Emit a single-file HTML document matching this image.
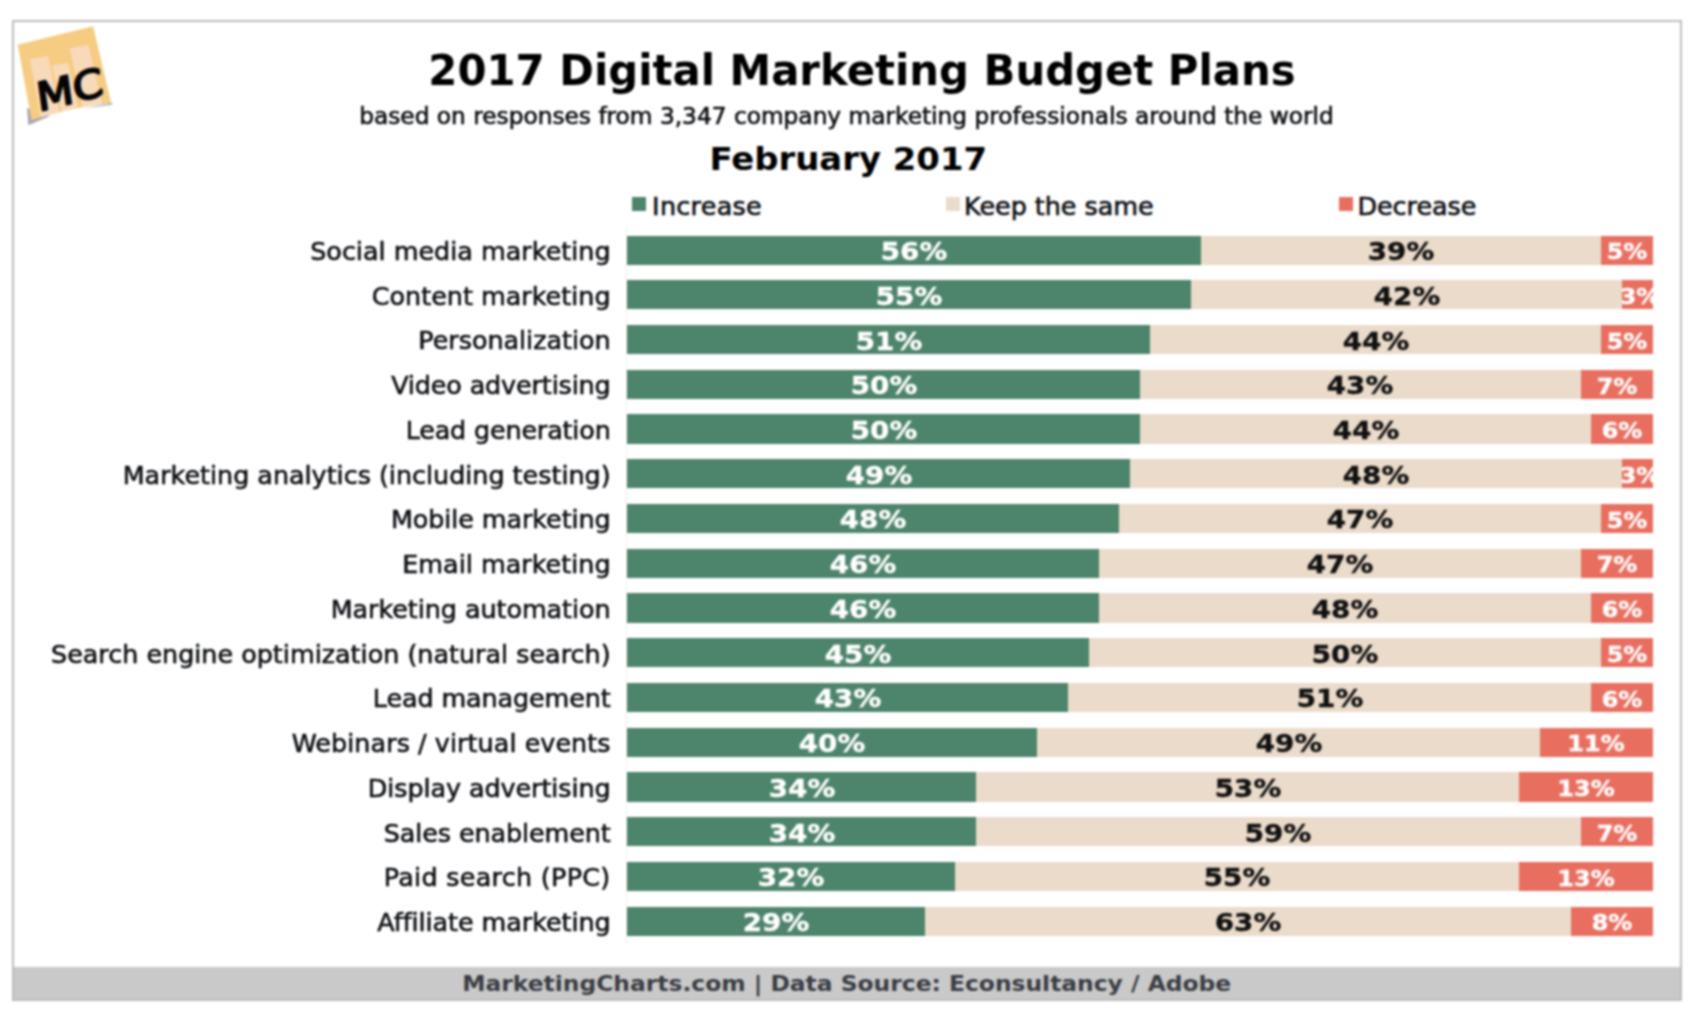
<!DOCTYPE html><html><head><meta charset="utf-8"><title>2017 Digital Marketing Budget Plans</title><style>
html,body{margin:0;padding:0;background:#fff;}
body{width:1700px;height:1018px;position:relative;overflow:hidden;font-family:"DejaVu Sans","Liberation Sans",sans-serif;color:#151515;}
.frame{position:absolute;left:11.8px;top:19.8px;width:1666.4px;height:976.8px;border:2px solid #bdbdbd;background:#fff;}
.footer{position:absolute;left:13.8px;top:966.6px;width:1666.4px;height:32px;background:#c9c9c9;}
.ftxt{position:absolute;left:0;width:1693.2px;top:968.2px;height:32px;line-height:32px;text-align:center;font-weight:bold;font-size:22px;color:#3b3d44;white-space:nowrap;}
.ftxt span{display:inline-block;transform:scaleX(1.063);}
.title{position:absolute;left:0;width:1724px;top:46.5px;text-align:center;font-weight:bold;font-size:41.8px;line-height:48px;color:#000;white-space:nowrap;}
.sub{position:absolute;left:0;width:1693px;top:101.4px;text-align:center;font-size:23.27px;line-height:30px;color:#1c1c1c;white-space:nowrap;}
.date{position:absolute;left:0;width:1697.2px;top:139px;text-align:center;font-weight:bold;font-size:32.3px;line-height:40px;color:#000;white-space:nowrap;}
.date span{display:inline-block;transform:scaleX(1.049);}
.lg{position:absolute;top:189.8px;height:32px;line-height:32px;font-size:25.4px;color:#1c1c1c;white-space:nowrap;}
.sw{position:absolute;top:197.4px;width:13.8px;height:13.8px;}
.lab{position:absolute;left:0;width:610.6px;text-align:right;font-size:25.4px;height:32px;line-height:32px;color:#1c1c1c;white-space:nowrap;}
.bar{position:absolute;left:627.4px;width:1025.2px;height:29.2px;overflow:hidden;}
.seg{position:absolute;top:0;height:100%;overflow:hidden;font-weight:bold;font-size:25px;line-height:32px;white-space:nowrap;}
.seg span{position:absolute;left:50%;top:0;height:32px;line-height:32px;transform:translateX(-50%) scaleX(1.11);}
.g{background:#4d846c;color:#fff;-webkit-text-stroke:0.4px #fff;}
.k{background:#eadbca;color:#111;-webkit-text-stroke:0.4px #111;}
.d{background:#e86f60;color:#fff;-webkit-text-stroke:0.35px #fff;font-size:21.6px;line-height:32px;}
.axis{position:absolute;left:625.6px;top:228px;width:1px;height:716px;background:#efefef;}
.logo{position:absolute;left:0;top:0;}
.sub,.lab,.lg{-webkit-text-stroke:0.6px #0c0e12;color:#0c0e12;}
.wrap{position:absolute;left:0;top:0;width:1700px;height:1018px;filter:blur(0.8px);}
</style></head><body>
<div class="wrap">
<div class="frame"></div>
<div class="footer"></div><div class="ftxt"><span>MarketingCharts.com | Data Source: Econsultancy / Adobe</span></div>
<svg class="logo" width="140" height="140" viewBox="0 0 140 140">
<polygon points="27,108 28.3,125.2 50,116" fill="#a4a8b3"/>
<polygon points="84,108.5 111.6,102.5 112.6,104.8" fill="#b4b8c2"/>
<path d="M17.7,44.8 L93.1,26.2 L111.1,102.7 Q68,108 31.5,120.2 Z" fill="#f5cc82"/>
<polygon points="29.9,59.2 48.0,56.0 59.5,112.2 40.6,117.3" fill="#f8dabb"/>
<polygon points="52.2,65.5 68.1,62.9 78.2,108.0 61.6,111.6" fill="#f8dabb"/>
<polygon points="69.7,48.5 88.3,44.8 102.1,103.5 82.8,107.3" fill="#f8dabb"/>
<text transform="matrix(0.970,-0.242,0.139,0.990,38.8,111.4)" x="0" y="0" font-family="DejaVu Sans, Liberation Sans, sans-serif" font-size="39" fill="#050505" stroke="#050505" stroke-width="2.1" stroke-linejoin="round" textLength="67.5" lengthAdjust="spacingAndGlyphs">MC</text>
</svg>
<div class="title">2017 Digital Marketing Budget Plans</div>
<div class="sub">based on responses from 3,347 company marketing professionals around the world</div>
<div class="date"><span>February 2017</span></div>
<div class="sw" style="left:632.4px;background:#4d846c"></div><div class="lg" style="left:652.1px;letter-spacing:0.3px">Increase</div>
<div class="sw" style="left:945.8px;background:#eadbca"></div><div class="lg" style="left:964.0px">Keep the same</div>
<div class="sw" style="left:1339.2px;background:#e86f60"></div><div class="lg" style="left:1357.4px">Decrease</div>
<div class="axis"></div>
<div class="lab" style="top:235px;letter-spacing:0.024px">Social media marketing</div>
<div class="bar" style="top:235.50px"><div class="seg g" style="left:0;width:574.1px"><span style="top:0.50px">56%</span></div><div class="seg k" style="left:574.1px;width:399.8px"><span style="top:0.50px">39%</span></div><div class="seg d" style="left:973.9px;width:51.8px"><span style="top:0.50px">5%</span></div></div>
<div class="lab" style="top:280px;letter-spacing:0.025px">Content marketing</div>
<div class="bar" style="top:280.24px"><div class="seg g" style="left:0;width:563.9px"><span style="top:0.76px">55%</span></div><div class="seg k" style="left:563.9px;width:430.6px"><span style="top:0.76px">42%</span></div><div class="seg d" style="left:994.4px;width:31.3px"><span style="top:0.76px;margin-left:3px">3%</span></div></div>
<div class="lab" style="top:324px;letter-spacing:-0.014px">Personalization</div>
<div class="bar" style="top:324.98px"><div class="seg g" style="left:0;width:522.9px"><span style="top:1.02px">51%</span></div><div class="seg k" style="left:522.9px;width:451.1px"><span style="top:1.02px">44%</span></div><div class="seg d" style="left:973.9px;width:51.8px"><span style="top:1.02px">5%</span></div></div>
<div class="lab" style="top:369px;letter-spacing:-0.119px">Video advertising</div>
<div class="bar" style="top:369.72px"><div class="seg g" style="left:0;width:512.6px"><span style="top:0.28px">50%</span></div><div class="seg k" style="left:512.6px;width:440.8px"><span style="top:0.28px">43%</span></div><div class="seg d" style="left:953.4px;width:72.3px"><span style="top:1.28px">7%</span></div></div>
<div class="lab" style="top:414px;letter-spacing:-0.150px">Lead generation</div>
<div class="bar" style="top:414.46px"><div class="seg g" style="left:0;width:512.6px"><span style="top:0.54px">50%</span></div><div class="seg k" style="left:512.6px;width:451.1px"><span style="top:0.54px">44%</span></div><div class="seg d" style="left:963.7px;width:62.0px"><span style="top:0.54px">6%</span></div></div>
<div class="lab" style="top:459px;letter-spacing:0.005px">Marketing analytics (including testing)</div>
<div class="bar" style="top:459.20px"><div class="seg g" style="left:0;width:502.3px"><span style="top:0.80px">49%</span></div><div class="seg k" style="left:502.3px;width:492.1px"><span style="top:0.80px">48%</span></div><div class="seg d" style="left:994.4px;width:31.3px"><span style="top:0.80px;margin-left:3px">3%</span></div></div>
<div class="lab" style="top:503px;letter-spacing:-0.067px">Mobile marketing</div>
<div class="bar" style="top:503.94px"><div class="seg g" style="left:0;width:492.1px"><span style="top:0.06px">48%</span></div><div class="seg k" style="left:492.1px;width:481.8px"><span style="top:0.06px">47%</span></div><div class="seg d" style="left:973.9px;width:51.8px"><span style="top:1.06px">5%</span></div></div>
<div class="lab" style="top:548px;letter-spacing:0.029px">Email marketing</div>
<div class="bar" style="top:548.68px"><div class="seg g" style="left:0;width:471.6px"><span style="top:0.32px">46%</span></div><div class="seg k" style="left:471.6px;width:481.8px"><span style="top:0.32px">47%</span></div><div class="seg d" style="left:953.4px;width:72.3px"><span style="top:0.32px">7%</span></div></div>
<div class="lab" style="top:593px;letter-spacing:-0.037px">Marketing automation</div>
<div class="bar" style="top:593.42px"><div class="seg g" style="left:0;width:471.6px"><span style="top:0.58px">46%</span></div><div class="seg k" style="left:471.6px;width:492.1px"><span style="top:0.58px">48%</span></div><div class="seg d" style="left:963.7px;width:62.0px"><span style="top:0.58px">6%</span></div></div>
<div class="lab" style="top:638px;letter-spacing:0.014px">Search engine optimization (natural search)</div>
<div class="bar" style="top:638.16px"><div class="seg g" style="left:0;width:461.3px"><span style="top:0.84px">45%</span></div><div class="seg k" style="left:461.3px;width:512.6px"><span style="top:0.84px">50%</span></div><div class="seg d" style="left:973.9px;width:51.8px"><span style="top:0.84px">5%</span></div></div>
<div class="lab" style="top:682px;letter-spacing:-0.093px">Lead management</div>
<div class="bar" style="top:682.90px"><div class="seg g" style="left:0;width:440.8px"><span style="top:0.10px">43%</span></div><div class="seg k" style="left:440.8px;width:522.9px"><span style="top:0.10px">51%</span></div><div class="seg d" style="left:963.7px;width:62.0px"><span style="top:1.10px">6%</span></div></div>
<div class="lab" style="top:727px;letter-spacing:0.067px">Webinars / virtual events</div>
<div class="bar" style="top:727.64px"><div class="seg g" style="left:0;width:410.1px"><span style="top:0.36px">40%</span></div><div class="seg k" style="left:410.1px;width:502.3px"><span style="top:0.36px">49%</span></div><div class="seg d" style="left:912.4px;width:113.3px"><span style="top:0.36px">11%</span></div></div>
<div class="lab" style="top:772px;letter-spacing:-0.056px">Display advertising</div>
<div class="bar" style="top:772.38px"><div class="seg g" style="left:0;width:348.6px"><span style="top:0.62px">34%</span></div><div class="seg k" style="left:348.6px;width:543.4px"><span style="top:0.62px">53%</span></div><div class="seg d" style="left:891.9px;width:133.8px"><span style="top:0.62px">13%</span></div></div>
<div class="lab" style="top:817px;letter-spacing:-0.080px">Sales enablement</div>
<div class="bar" style="top:817.12px"><div class="seg g" style="left:0;width:348.6px"><span style="top:0.88px">34%</span></div><div class="seg k" style="left:348.6px;width:604.9px"><span style="top:0.88px">59%</span></div><div class="seg d" style="left:953.4px;width:72.3px"><span style="top:0.88px">7%</span></div></div>
<div class="lab" style="top:861px;letter-spacing:0.312px">Paid search (PPC)</div>
<div class="bar" style="top:861.86px"><div class="seg g" style="left:0;width:328.1px"><span style="top:0.14px">32%</span></div><div class="seg k" style="left:328.1px;width:563.9px"><span style="top:0.14px">55%</span></div><div class="seg d" style="left:891.9px;width:133.8px"><span style="top:1.14px">13%</span></div></div>
<div class="lab" style="top:906px;letter-spacing:-0.044px">Affiliate marketing</div>
<div class="bar" style="top:906.60px"><div class="seg g" style="left:0;width:297.3px"><span style="top:0.40px">29%</span></div><div class="seg k" style="left:297.3px;width:645.9px"><span style="top:0.40px">63%</span></div><div class="seg d" style="left:943.2px;width:82.5px"><span style="top:0.40px">8%</span></div></div>
</div>
</body></html>
